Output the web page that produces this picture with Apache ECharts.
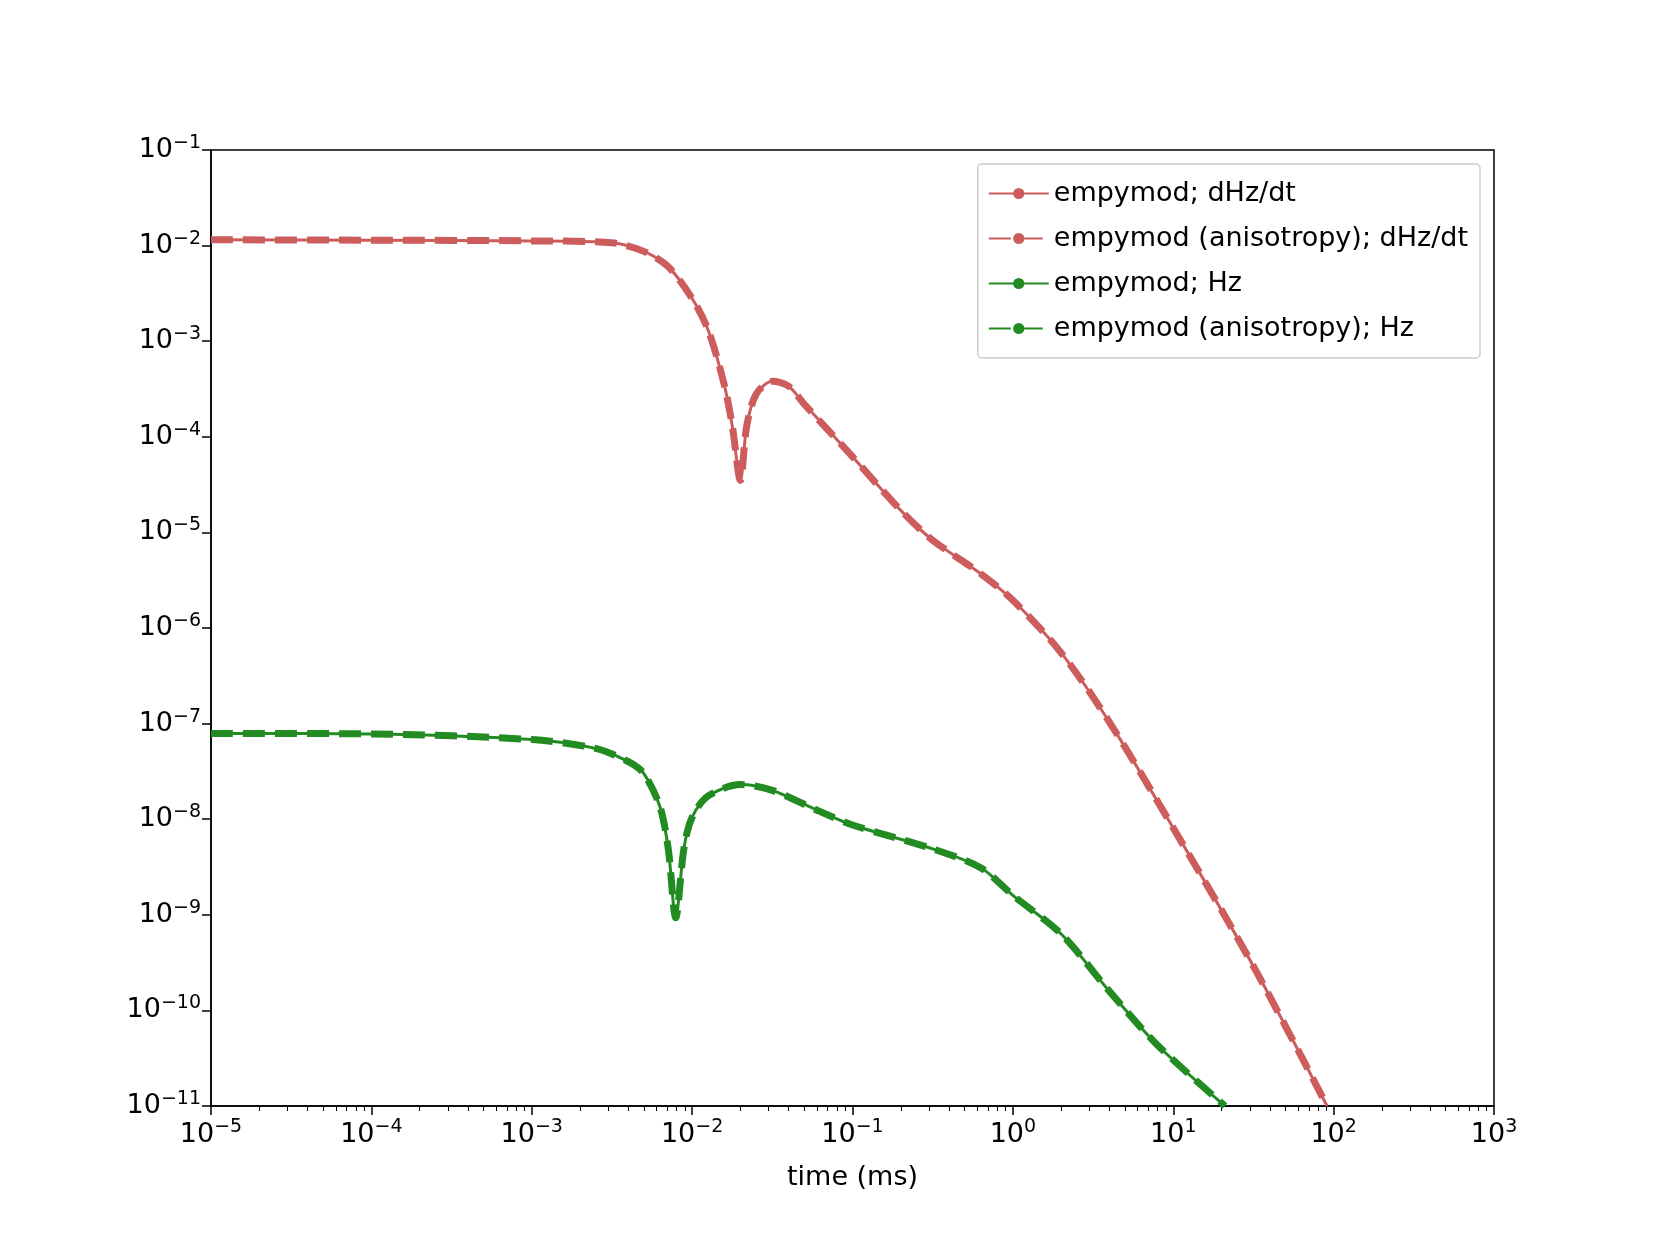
<!DOCTYPE html>
<html>
<head>
<meta charset="utf-8">
<script src="https://cdn.jsdelivr.net/npm/echarts@6/dist/echarts.min.js"></script>
<style>html,body{margin:0;padding:0;background:#fff}#chart{width:1660px;height:1242px}</style>
</head>
<body>
<div id="chart"></div>
<script>
// time (ms) and responses
const timeRed = [1e-5, 1e-4, 1e-3, 3.16e-3, 5.0e-3, 7.1e-3, 1.0e-2, 1.26e-2, 1.58e-2, 1.78e-2, 2.0e-2, 2.19e-2, 2.51e-2, 3.16e-2, 3.98e-2, 5.0e-2, 0.1, 0.2, 0.316, 0.63, 1.0, 2.0, 3.98, 10, 31.6, 91];
const dHzdt = [1.15e-2, 1.14e-2, 1.12e-2, 1.07e-2, 8.7e-3, 6.0e-3, 2.8e-3, 1.3e-3, 3.6e-4, 1.3e-4, 3.5e-5, 1.3e-4, 2.8e-4, 3.8e-4, 3.4e-4, 2.2e-4, 6.2e-5, 1.7e-5, 8.3e-6, 3.7e-6, 1.95e-6, 5.5e-7, 1.05e-7, 8.1e-9, 2.9e-10, 1.0e-11];
const timeGreen = [1e-5, 1e-4, 1e-3, 2.5e-3, 4.0e-3, 5.0e-3, 6.3e-3, 7.1e-3, 7.9e-3, 8.9e-3, 1.0e-2, 1.26e-2, 2.0e-2, 3.16e-2, 6.3e-2, 0.1, 0.316, 0.63, 1.0, 2.0, 3.98, 7.9, 21];
const Hz = [7.9e-8, 7.8e-8, 6.8e-8, 5.5e-8, 4.0e-8, 3.0e-8, 1.35e-8, 4.9e-9, 9.3e-10, 5.0e-9, 1.05e-8, 1.75e-8, 2.3e-8, 2.0e-8, 1.2e-8, 8.7e-9, 4.9e-9, 3.1e-9, 1.6e-9, 6.3e-10, 1.6e-10, 4.4e-11, 1.0e-11];

const red = '#cd5c5c', green = '#228b22';
const sup = {'-': '\u2212', '0': '0', '1': '1', '2': '2', '3': '3', '4': '4', '5': '5', '6': '6', '7': '7', '8': '8', '9': '9'};
function powLabel(v) {
  const e = Math.round(Math.log10(v));
  return '{b|10}{s|' + String(e).split('').map(c => sup[c]).join('') + '}';
}
const rich = {
  b: {fontSize: 27, fontFamily: 'DejaVu Sans', color: '#000'},
  s: {fontSize: 19, fontFamily: 'DejaVu Sans', color: '#000', verticalAlign: 'top', padding: [0, 0, 14, 0]}
};
function pairs(xs, ys) { return xs.map((x, i) => [x, ys[i]]); }

const chart = echarts.init(document.getElementById('chart'));
chart.setOption({
  animation: false,
  grid: {left: 211, right: 166, top: 150, bottom: 136, show: true, borderColor: '#000', borderWidth: 1.5},
  legend: {
    right: 180, top: 164, orient: 'vertical', itemWidth: 60, itemHeight: 14, itemGap: 18,
    padding: [16, 12, 16, 10], borderColor: '#ccc', borderWidth: 1.5, borderRadius: 4,
    backgroundColor: '#fff',
    textStyle: {fontSize: 27, fontFamily: 'DejaVu Sans', color: '#000'},
    data: ['empymod; dHz/dt', 'empymod (anisotropy); dHz/dt', 'empymod; Hz', 'empymod (anisotropy); Hz']
  },
  xAxis: {
    type: 'log', min: 1e-5, max: 1e3, logBase: 10,
    name: 'time (ms)', nameLocation: 'middle', nameGap: 58,
    nameTextStyle: {fontSize: 27, fontFamily: 'DejaVu Sans', color: '#000'},
    axisLine: {lineStyle: {color: '#000', width: 1.5}},
    axisTick: {inside: false, length: 9, lineStyle: {color: '#000', width: 1.5}},
    minorTick: {show: true, splitNumber: 9, length: 5, lineStyle: {color: '#000'}},
    axisLabel: {formatter: powLabel, rich: rich, margin: 12},
    splitLine: {show: false}
  },
  yAxis: {
    type: 'log', min: 1e-11, max: 1e-1, logBase: 10, interval: 1,
    axisLine: {show: true, lineStyle: {color: '#000', width: 1.5}},
    axisTick: {show: true, interval: 0, length: 9, lineStyle: {color: '#000', width: 1.5}},
    axisLabel: {formatter: powLabel, rich: rich, margin: 10, interval: 0, hideOverlap: false},
    splitLine: {show: false}
  },
  series: [
    {name: 'empymod; dHz/dt', type: 'line', data: pairs(timeRed, dHzdt), symbol: 'none', smooth: 0.3,
     color: red, lineStyle: {width: 3, color: red}},
    {name: 'empymod (anisotropy); dHz/dt', type: 'line', data: pairs(timeRed, dHzdt), symbol: 'none', smooth: 0.3,
     color: red, lineStyle: {width: 7, color: red, type: [22, 10]}},
    {name: 'empymod; Hz', type: 'line', data: pairs(timeGreen, Hz), symbol: 'none', smooth: 0.3,
     color: green, lineStyle: {width: 3, color: green}},
    {name: 'empymod (anisotropy); Hz', type: 'line', data: pairs(timeGreen, Hz), symbol: 'none', smooth: 0.3,
     color: green, lineStyle: {width: 7, color: green, type: [22, 10]}}
  ]
});
</script>
</body>
</html>
